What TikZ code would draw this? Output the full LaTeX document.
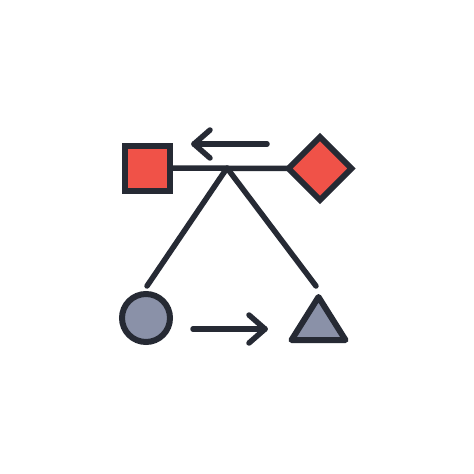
\documentclass[tikz,border=0pt]{standalone}
\usetikzlibrary{shapes.geometric}
\definecolor{ink}{RGB}{38,42,52}
\definecolor{redf}{RGB}{240,82,72}
\definecolor{grayf}{RGB}{138,145,168}
\begin{document}
\begin{tikzpicture}[x=1pt,y=-1pt,
  shp/.style={draw=ink,line width=6pt,inner sep=0pt,outer sep=0pt},
  ln/.style={draw=ink,line width=5.5pt,line cap=round,line join=round},
  tip/.style={draw=ink,line width=5.5pt,line cap=round,line join=round}]
\path[use as bounding box,fill=white] (0,0) rectangle (474,474);
% nodes
\node[shp,fill=redf,rectangle,minimum size=45pt] (sq) at (147.5,168) {};
\node[shp,fill=redf,diamond,aspect=1,minimum size=63pt] (dia) at (320,168.5) {};
\node[shp,fill=grayf,circle,minimum size=48pt] (cir) at (146,318) {};
\coordinate (tri) at (318.5,326);
\filldraw[fill=grayf,draw=ink,line width=6pt,line join=round]
  ([shift={(0,-29)}]tri) -- ([shift={(27,14)}]tri) -- ([shift={(-27,14)}]tri) -- cycle;
% connectors
\coordinate (j) at (227,168);
\coordinate (l) at (147,286);
\coordinate (r) at (316,286);
\draw[ln] (sq.east) -- (dia.west);
\draw[ln] (l) -- (j) -- (r);
% arrows
\coordinate (a1) at (267,144);
\coordinate (a2) at (194,144);
\draw[tip] (a1) -- (a2);
\draw[tip] ([shift={(16,-14)}]a2) -- (a2) -- ([shift={(16,14)}]a2);
\coordinate (b1) at (193,329);
\coordinate (b2) at (265,329);
\draw[tip] (b1) -- (b2);
\draw[tip] ([shift={(-16,-14)}]b2) -- (b2) -- ([shift={(-16,14)}]b2);
\end{tikzpicture}
\end{document}
